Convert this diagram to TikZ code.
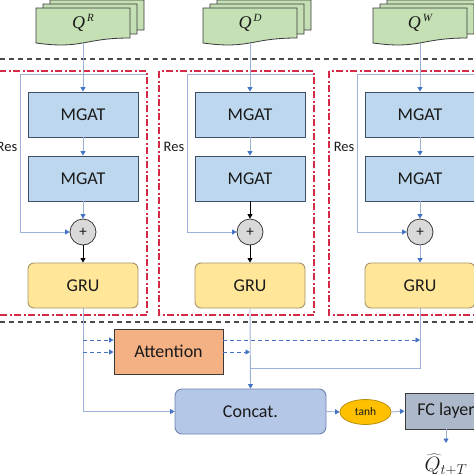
\documentclass[tikz,border=0pt]{standalone}
\usepackage{fontspec}
\setmainfont{Carlito}
\newfontfamily\tnr{Liberation Serif}
\usetikzlibrary{arrows.meta,shapes.geometric}
\definecolor{docgreen}{HTML}{C5E0B4}
\definecolor{docline}{HTML}{3A3A3A}
\definecolor{mgatfill}{HTML}{BDD7EE}
\definecolor{mgatline}{HTML}{3F4F66}
\definecolor{grufill}{HTML}{FFE699}
\definecolor{gruline}{HTML}{A89468}
\definecolor{attfill}{HTML}{F4B183}
\definecolor{ccfill}{HTML}{B4C7E7}
\definecolor{ccline}{HTML}{6F85B0}
\definecolor{fcfill}{HTML}{ADB9CA}
\definecolor{tanhfill}{HTML}{FFC000}
\definecolor{tanhline}{HTML}{B8900A}
\definecolor{plusfill}{HTML}{D9D9D9}
\definecolor{lightblue}{HTML}{9DB0D8}
\definecolor{tipblue}{HTML}{4472C4}
\definecolor{redline}{HTML}{D42A45}
\definecolor{darkdash}{HTML}{4A4A4A}
\definecolor{txt}{HTML}{1A1A1A}
\begin{document}
\begin{tikzpicture}[x=1pt,y=-1pt,
  docsheet/.pic={\filldraw[draw=docline,fill=docgreen,line width=0.8pt]
     (-47,0) -- (47,0) -- (47,30) .. controls (0,30) and (0,41.5) .. (-47,35) -- cycle;},
  qlabel/.style={inner sep=0pt,anchor=base,text=txt,font=\fontsize{18}{18}\selectfont\tnr\itshape},
  boxbase/.style={draw,line width=0.9pt,minimum width=110pt,minimum height=45pt,inner sep=0pt,
     text=txt,font=\fontsize{18}{18}\selectfont},
  mgat/.style={boxbase,fill=mgatfill,draw=mgatline},
  gru/.style={boxbase,fill=grufill,draw=gruline,rounded corners=6pt},
  attn/.style={boxbase,fill=attfill,draw=docline,minimum width=109pt},
  concat/.style={boxbase,fill=ccfill,draw=ccline,rounded corners=7pt,minimum width=151pt},
  fcn/.style={boxbase,fill=fcfill,draw=docline,minimum width=82pt,minimum height=36pt},
  tanhn/.style={ellipse,draw=tanhline,fill=tanhfill,line width=0.8pt,minimum width=51pt,
     minimum height=25pt,inner sep=0pt,text=txt,font=\fontsize{11.5}{11.5}\selectfont},
  plus/.style={circle,draw=docline,fill=plusfill,line width=0.8pt,minimum size=26pt,inner sep=0pt,
     text=txt,font=\fontsize{15}{15}\selectfont},
  reslab/.style={inner sep=0pt,text=txt,font=\fontsize{14.5}{14.5}\selectfont},
  lightln/.style={draw=lightblue,line width=0.9pt},
  tipb/.style={-{Triangle[width=5pt,length=4.5pt,color=tipblue]}},
  tipk/.style={draw=black,line width=0.8pt,-{Triangle[width=5pt,length=4.5pt,color=black]}},
  dashar/.style={draw=tipblue,line width=0.9pt,dash pattern=on 4pt off 3pt,
     -{Triangle[width=5pt,length=4.5pt,color=tipblue]}},
  redbox/.style={draw=redline,line width=1.2pt,dash pattern=on 7pt off 2.5pt on 2pt off 2.5pt},
  blackdash/.style={draw=darkdash,line width=1.5pt,dash pattern=on 5pt off 4pt}]
\useasboundingbox (0,0) rectangle (474,474);
\clip (0,0) rectangle (474,474);

% black dashed separators
\coordinate (dlA) at (0,59);
\coordinate (dlB) at (474,59);
\coordinate (dlC) at (0,322);
\coordinate (dlD) at (474,322);
\draw[blackdash] (dlA) -- (dlB);
\draw[blackdash] (dlC) -- (dlD);

\foreach \g/\cx in {R/83,D/250,W/420}{
  \pic at (\cx+14,0) {docsheet};
  \pic at (\cx+7,4) {docsheet};
  \pic at (\cx,8) {docsheet};
  \node[qlabel] (q\g) at (\cx,28) {Q\hspace{2pt}\raisebox{6.5pt}{\fontsize{11}{11}\selectfont \g}};
  \coordinate (qin\g) at (\cx,43);
  \draw[redbox] (\cx-91,71) rectangle (\cx+64,315);
  \node[mgat] (ma\g) at (\cx,114.5) {MGAT};
  \node[mgat] (mb\g) at (\cx,178.5) {MGAT};
  \node[plus] (p\g) at (\cx,232) {+};
  \node[gru] (gru\g) at (\cx,285.5) {GRU};
  \node[reslab] (res\g) at (\cx-76,147) {Res};
  \coordinate (rr\g) at (\cx+63,74);
  \coordinate (rl\g) at (\cx-63,74);
  \coordinate (rb\g) at (\cx-63,232);
  \draw[lightln] (rr\g) -- (rl\g) -- (rb\g);
  \draw[lightln,tipb] (rb\g) -- (p\g.west);
  \draw[lightln,tipb] (qin\g) -- (ma\g.north);
  \draw[lightln,tipb] (ma\g.south) -- (mb\g.north);
}
% MGAT -> plus, plus -> GRU
\draw[lightln,tipb] (mbR.south) -- (pR.north);
\draw[tipk] (pR.south) -- (gruR.north);
\draw[tipk] (mbD.south) -- (pD.north);
\draw[tipk] (pD.south) -- (gruD.north);
\draw[lightln,tipb] (mbW.south) -- (pW.north);
\draw[lightln,tipb] (pW.south) -- (gruW.north);

% lower part
\node[attn] (att) at (168.5,351.5) {Attention};
\node[concat] (cc) at (250.5,411.5) {Concat.};
\node[tanhn] (th) at (365.5,412) {tanh};
\node[fcn] (fc) at (446,411) {FC layer};
\coordinate (outQ) at (446,443);
\node[qlabel,font=\fontsize{21}{21}\selectfont] (qhat) at (446,471) {$\widehat{Q}_{t+T}$};

\coordinate (gRturn) at (83,411.5);
\draw[lightln,tipb] (gruR.south) -- (gRturn) -- (cc.west);
\draw[lightln,tipb] (gruD.south) -- (cc.north);
\coordinate (gWturn) at (420,368);
\coordinate (gWjoin) at (250,368);
\draw[lightln] (gruW.south) -- (gWturn) -- (gWjoin);

\coordinate (daA) at (83,340);
\coordinate (daB) at (83,352);
\coordinate (dbA) at (420,340);
\coordinate (dbB) at (250,352);
\draw[dashar] (daA) -- (att.west |- daA);
\draw[dashar] (daB) -- (att.west |- daB);
\draw[dashar] (att.east |- dbA) -- (dbA);
\draw[dashar] (att.east |- dbB) -- (dbB);

\draw[lightln,tipb] (cc.east) -- (th.west);
\draw[lightln,tipb] (th.east) -- (fc.west);
\draw[lightln,tipb] (fc.south) -- (outQ);
\end{tikzpicture}
\end{document}
